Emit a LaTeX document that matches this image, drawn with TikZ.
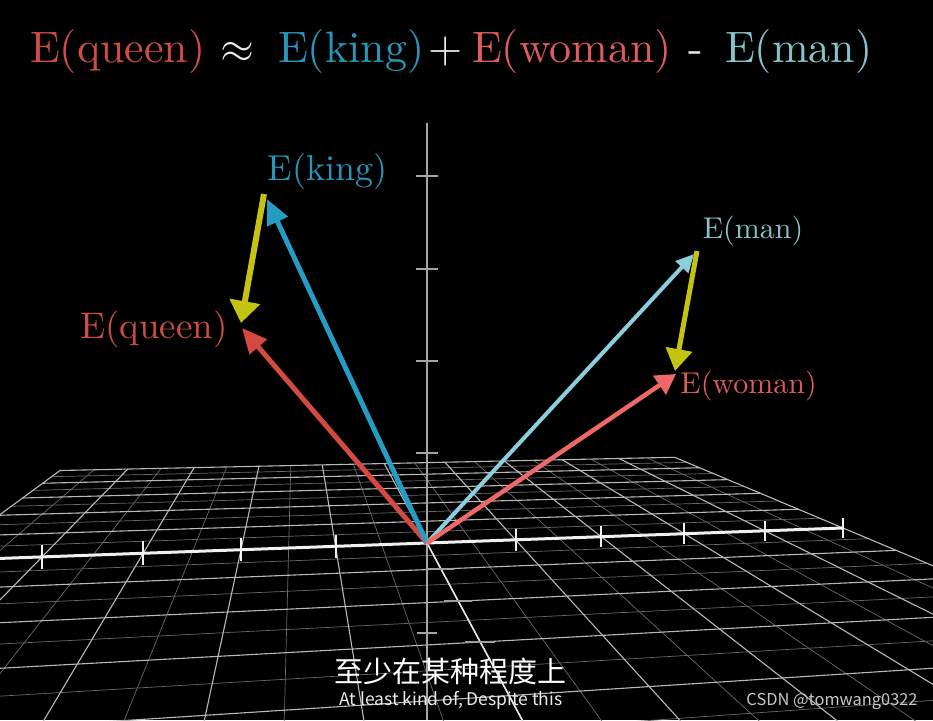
\documentclass[tikz,border=0pt]{standalone}
\usepackage{unicode-math}
\setmainfont{lmroman10-regular}[Extension=.otf]
\newfontfamily\cjk{Noto Sans CJK SC}
\usetikzlibrary{arrows.meta}
\definecolor{queenc}{RGB}{214,72,66}
\definecolor{kingc}{RGB}{36,156,196}
\definecolor{manc}{RGB}{140,206,220}
\definecolor{womanc}{RGB}{238,104,104}
\definecolor{yelc}{RGB}{196,196,16}
\definecolor{tqueen}{RGB}{205,76,70}
\definecolor{tking}{RGB}{40,150,186}
\definecolor{twoman}{RGB}{222,92,92}
\definecolor{tman}{RGB}{132,196,202}
\definecolor{gmaj}{RGB}{185,185,185}
\definecolor{gmin}{RGB}{105,105,105}
\definecolor{zaxc}{RGB}{165,165,165}
\definecolor{wmark}{RGB}{200,200,200}
\begin{document}
\begin{tikzpicture}[x=1pt,y=-1pt,
  declare function={
    gd(\p,\q)=1+0.01629*\p-0.0959*\q;
    gu(\p,\q)=(427+96.93*\p-28.3*\q)/gd(\p,\q);
    gv(\p,\q)=(543+5.6*\p-28.56*\q)/gd(\p,\q);
  },
  gridmaj/.style={draw=gmaj,line width=1.1pt},
  gridmin/.style={draw=gmin,line width=0.7pt},
  xaxisline/.style={draw=white!94!black,line width=3pt},
  xtickline/.style={draw=white!94!black,line width=2pt},
  zaxisline/.style={draw=zaxc,line width=2pt},
  ytickline/.style={draw=gray!75,line width=2.5pt},
  vecbig/.style={line width=5pt,-{Triangle[length=25pt,width=22pt]}},
  vecsmall/.style={line width=4pt,-{Triangle[length=18pt,width=17pt]}},
  diffL/.style={draw=yelc,line width=6pt,-{Triangle[length=22pt,width=30pt]}},
  diffR/.style={draw=yelc,line width=5pt,-{Triangle[length=22pt,width=26pt]}},
  lbl/.style={inner sep=0pt,outer sep=0pt},
  ttl/.style={inner sep=0pt,outer sep=0pt,font=\fontsize{44}{50}\selectfont}
]
\fill[black] (0,0) rectangle (933,720);
\useasboundingbox (0,0) rectangle (933,720);

% ground grid
\begin{scope}
\clip (0,0) rectangle (933,720);
\foreach \i in {-4.5,-3.5,...,4.5}
  \draw[gridmin] ({gu(\i,-5)},{gv(\i,-5)}) -- ({gu(\i,6)},{gv(\i,6)});
\foreach \j in {-4.5,-3.5,...,5.5}
  \draw[gridmin] ({gu(-5,\j)},{gv(-5,\j)}) -- ({gu(5,\j)},{gv(5,\j)});
\foreach \i in {-5,...,5}
  \draw[gridmaj] ({gu(\i,-5)},{gv(\i,-5)}) -- ({gu(\i,6)},{gv(\i,6)});
\foreach \j in {-5,...,6}
  \draw[gridmaj] ({gu(-5,\j)},{gv(-5,\j)}) -- ({gu(5,\j)},{gv(5,\j)});
% y axis (toward viewer)
\draw[draw=white!90!black,line width=1.6pt] ({gu(0,0)},{gv(0,0)}) -- ({gu(0,6)},{gv(0,6)});
\foreach \j/\h in {1/13,2/14,3/15}
  \draw[ytickline] ({gu(0,\j)-\h},{gv(0,\j)}) -- ({gu(0,\j)+\h},{gv(0,\j)});
% z axis
\draw[zaxisline] (427,123) -- (427,720);
\foreach \v in {176,269,361,453}
  \draw[zaxisline] (416,\v) -- (438,\v);
\draw[zaxisline] (417,633) -- (437,633);
% x axis
\draw[xaxisline] ({gu(-5,0)},{gv(-5,0)}) -- ({gu(5,0)},{gv(5,0)});
\foreach \i in {-5,-4,-3,-2,-1,1,2,3,4,5}
  \draw[xtickline] ({gu(\i,0)},{gv(\i,0)-(11.2-0.25*\i)}) -- ({gu(\i,0)},{gv(\i,0)+(11.2-0.25*\i)});
\end{scope}

% vectors
\coordinate (O) at (427,543);
\coordinate (queenT) at (242,328);
\coordinate (kingT) at (267,199);
\coordinate (ylA) at (264,194);
\coordinate (ylB) at (241,323);
\coordinate (manT) at (694,254);
\coordinate (womanT) at (676,374);
\coordinate (yrA) at (697,251);
\coordinate (yrB) at (675,371);

\draw[vecbig,draw=queenc,fill=queenc] (O) -- (queenT);
\draw[vecbig,draw=kingc,fill=kingc] (O) -- (kingT);
\draw[diffL,fill=yelc] (ylA) -- (ylB);
\draw[vecsmall,draw=manc,fill=manc] (O) -- (manT);
\draw[diffR,fill=yelc] (yrA) -- (yrB);
\draw[vecsmall,line width=4.5pt,draw=womanc,fill=womanc,-{Triangle[length=20pt,width=22pt]}] (O) -- (womanT);

% vector labels
\node[lbl,text=tking,font=\fontsize{36}{40}\selectfont] (lking) at (327.5,171) {E(king)};
\node[lbl,text=tqueen,font=\fontsize{37}{40}\selectfont] (lqueen) at (154,329) {E(queen)};
\node[lbl,text=tman,font=\fontsize{30}{34}\selectfont] (lman) at (753,230.5) {E(man)};
\node[lbl,text=twoman,font=\fontsize{30}{34}\selectfont] (lwoman) at (748.5,385.5) {E(woman)};

% title
\node[ttl,anchor=base west,text=tqueen] (t1) at (30,62) {E(queen)};
\node[ttl,anchor=base,text=white!92!black] (t2) at (238,62) {$\approx$};
\node[ttl,anchor=base west,text=tking] (t3) at (278,62) {E(king)};
\node[ttl,anchor=base,text=white!92!black] (t4) at (446,62) {+};
\node[ttl,anchor=base west,text=twoman] (t5) at (472,62) {E(woman)};
\node[ttl,anchor=base,text=white!92!black] (t6) at (696,62) {-};
\node[ttl,anchor=base west,text=tman] (t7) at (725,62) {E(man)};

% subtitles and watermark
\node[lbl,text=white,font=\cjk\fontsize{29}{32}\selectfont] (sub1) at (450.5,671) {至少在某种程度上};
\node[lbl,text=white!92!black,font=\cjk\fontsize{17.5}{20}\selectfont] (sub2) at (451,700) {At least kind of, Despite this};
\node[lbl,text=wmark,font=\cjk\fontsize{16.4}{18}\selectfont] (wm) at (832,701) {CSDN @tomwang0322};
\end{tikzpicture}
\end{document}
